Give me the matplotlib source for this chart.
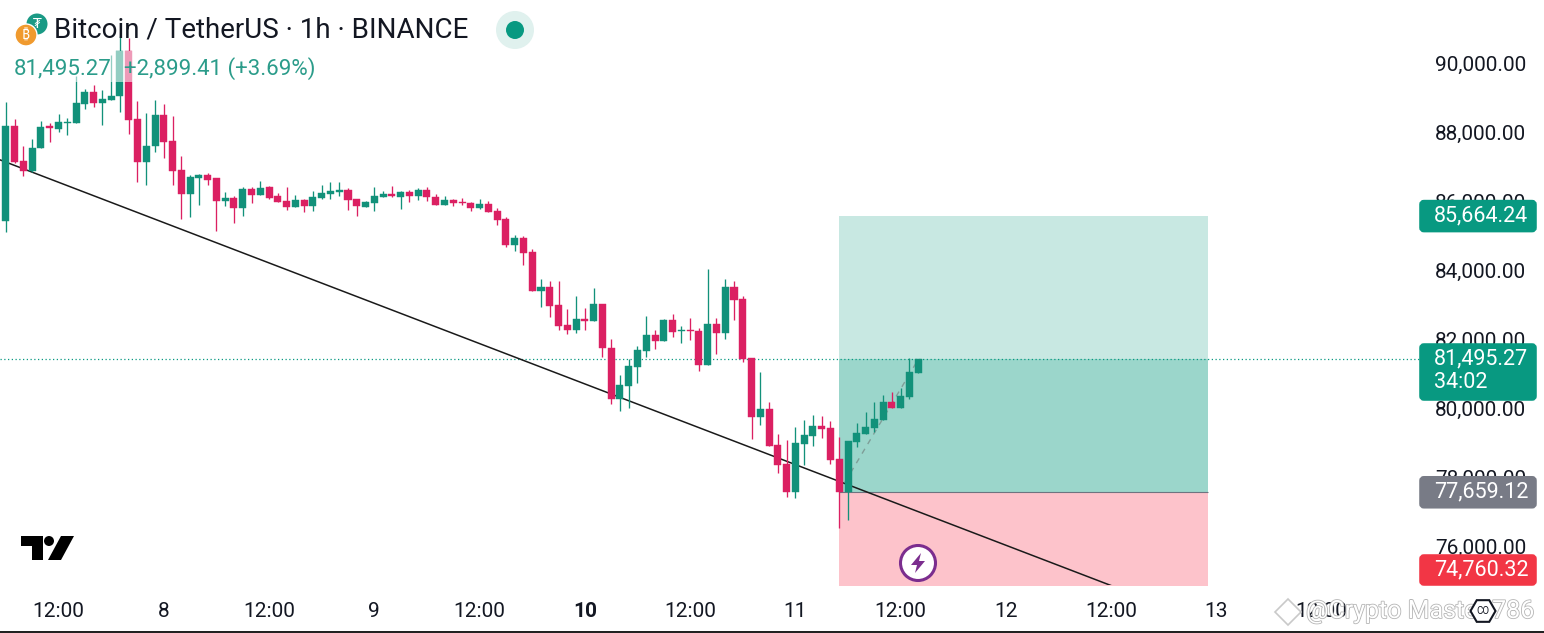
import math
import matplotlib
matplotlib.use("Agg")
import matplotlib.pyplot as plt
import matplotlib.patheffects as pe
from matplotlib.patches import Circle, FancyBboxPatch, Polygon, Rectangle, RegularPolygon
from matplotlib.transforms import ScaledTranslation

plt.rcParams["font.family"] = ["Roboto", "Noto Sans", "DejaVu Sans"]

# Hourly candles
opens = [85520, 88270, 87240, 86970, 87610, 88250, 88180, 88350, 88360, 88910,
         89240, 88940, 89020, 89120, 90440, 88470, 87220, 87670, 88580, 87830,
         86990, 86290, 86740, 86830, 86740, 86090, 86180, 85890, 86440, 86260,
         86480, 86220, 86090, 85920, 86120, 85950, 86160, 86290, 86360, 86410,
         86150, 85920, 86040, 86210, 86290, 86210, 86350, 86220, 86410, 86200,
         85970, 86110, 86060, 86030, 85890, 86000, 85800, 85570, 84820, 85020,
         84610, 83480, 83600, 83070, 82490, 82350, 82670, 82610, 83100, 81840,
         80360, 80730, 81290, 81750, 82200, 82030, 82640, 82330, 82350, 82320,
         81330, 82520, 82270, 83600, 83250, 81530, 79830, 80060, 79010, 78460,
         77660, 79040, 79280, 79570, 79510, 78610, 77660, 79100, 79330, 79510,
         79740, 80260, 80090, 80410, 81100]
highs = [88970, 88460, 87690, 87880, 88420, 88360, 88600, 88490, 89700, 89330,
         89450, 89310, 90320, 90860, 90810, 88990, 88650, 89020, 88900, 88540,
         87380, 86840, 86860, 86910, 86750, 86340, 86220, 86490, 86490, 86660,
         86510, 86330, 86480, 86260, 86150, 86390, 86550, 86640, 86640, 86460,
         86150, 86080, 86490, 86380, 86510, 86380, 86410, 86460, 86490, 86290,
         86240, 86140, 86170, 86070, 86150, 86080, 85890, 85620, 85100, 85080,
         84690, 83820, 83760, 83780, 82960, 83340, 82990, 83560, 83100, 82080,
         81040, 81500, 81890, 82760, 82350, 82660, 82810, 82450, 82700, 82400,
         84120, 82700, 83830, 83770, 83330, 81530, 81140, 80250, 79330, 79160,
         79540, 79740, 79880, 79860, 79710, 79260, 79130, 79660, 79960, 80270,
         80460, 80550, 80660, 81540, 81510]
lows = [85200, 87180, 86800, 86940, 87610, 87810, 88090, 87990, 88360, 88750,
        88810, 88290, 89020, 88680, 88030, 86640, 86550, 87520, 87320, 86550,
        85570, 85610, 85970, 86550, 85230, 85950, 85450, 85660, 86030, 86260,
        86140, 86060, 85830, 85920, 85770, 85810, 86140, 86150, 86220, 85830,
        85660, 85900, 85810, 86190, 86200, 85860, 86070, 86120, 86090, 85970,
        85960, 85950, 85960, 85810, 85850, 85770, 85390, 84740, 84630, 84230,
        83480, 83020, 82730, 82350, 82230, 82270, 82350, 82610, 81560, 80200,
        80000, 80080, 80800, 81560, 81800, 82030, 82150, 81960, 82060, 81170,
        81330, 81650, 82090, 82640, 81430, 79190, 79590, 78980, 78210, 77520,
        77480, 78430, 78980, 79220, 78460, 76610, 76840, 78960, 79330, 79390,
        79740, 80090, 80090, 80340, 81100]
closes = [88270, 87230, 86970, 87620, 88230, 88210, 88370, 88380, 88920, 89240,
          88930, 89050, 89130, 90440, 88440, 87220, 87690, 88570, 87800, 86960,
          86290, 86770, 86830, 86690, 86100, 86180, 85890, 86440, 86260, 86470,
          86180, 86060, 85920, 86120, 85950, 86210, 86320, 86380, 86410, 86120,
          85930, 86060, 86230, 86290, 86220, 86350, 86220, 86400, 86190, 85980,
          86120, 86040, 86030, 85890, 86000, 85780, 85550, 84810, 85020, 84590,
          83490, 83600, 83050, 82470, 82350, 82670, 82620, 83100, 81840, 80360,
          80740, 81310, 81770, 82200, 82040, 82640, 82300, 82350, 82330, 81330,
          82520, 82270, 83600, 83220, 81510, 79840, 80060, 78990, 78430, 77660,
          79070, 79300, 79570, 79480, 78580, 77660, 79130, 79360, 79540, 79770,
          80260, 80090, 80440, 81130, 81495]

price_ticks = [76000, 78000, 80000, 82000, 84000, 86000, 88000, 90000]
time_ticks = [6, 18, 30, 42, 54, 66, 78, 90, 102, 114, 126, 138, 150]
time_labels = ["12:00", "8", "12:00", "9", "12:00", "10", "12:00", "11", "12:00", "12", "12:00", "13", "12:00"]

last_price = 81495.27
target_price = 85664.24
entry_price = 77659.12
stop_price = 74760.32
tool_start = 95
tool_end = 137
trend_x = [-0.67, 130]
trend_y = [87280, 74550]

W, H = 1544, 633
UP = "#12917A"
DOWN = "#DB2062"
TV_GREEN = "#089981"
TEXT = "#131722"

fig = plt.figure(figsize=(W / 100, H / 100), dpi=100, facecolor="white")
ax = fig.add_axes([0, (H - 585) / H, 1420 / W, 585 / H])
ax.set_xlim(-0.67, 161.2)
ax.set_ylim(74957, 91913)
for s in ax.spines.values():
    s.set_visible(False)

# position tool
ax.fill_between([tool_start, tool_end], entry_price, target_price, color="#C8E8E2", lw=0, zorder=1)
ax.fill_between([tool_start, tool_end], entry_price, last_price, color="#9BD6CB", lw=0, zorder=1.1)
ax.fill_between([tool_start, tool_end], stop_price, entry_price, color="#FDC3CB", lw=0, zorder=1)
ax.plot([tool_start, tool_end], [entry_price, entry_price], color="#6E7480", lw=0.8,
        solid_capstyle="butt", zorder=1.2)
ax.plot([tool_start, 104], [entry_price, last_price], color="#7F9E98", lw=1, ls=(0, (4, 4)), zorder=1.3)

ax.axhline(last_price, color=TV_GREEN, lw=0.9, ls=(0, (1, 2)), zorder=1.4)
ax.plot(trend_x, trend_y, color="#1A1A1A", lw=1.1, zorder=2)

# candles
xs = list(range(len(opens)))
colors = [UP if c >= o else DOWN for o, c in zip(opens, closes)]
ax.vlines(xs, lows, highs, colors=colors, lw=0.95, zorder=3)
ax.bar(xs, [abs(c - o) for o, c in zip(opens, closes)],
       bottom=[min(o, c) for o, c in zip(opens, closes)],
       width=0.8, color=colors, edgecolor=colors, lw=0.3, zorder=4)

ax.yaxis.tick_right()
ax.set_yticks(price_ticks)
ax.set_yticklabels([f"{p:,.2f}" for p in price_ticks], fontsize=15, color=TEXT)
ax.set_xticks(time_ticks)
ax.set_xticklabels(time_labels, fontsize=15, color=TEXT)
ax.get_xticklabels()[5].set_fontweight("bold")
ax.tick_params(axis="both", length=0)
ax.tick_params(axis="y", pad=11)
ax.tick_params(axis="x", pad=12.5)
# price labels sit a little above their level
for lbl in ax.get_yticklabels():
    lbl.set_transform(lbl.get_transform() + ScaledTranslation(0, 3 / 100, fig.dpi_scale_trans))

# overlay in pixel coordinates for header, logos and price boxes
ov = fig.add_axes([0, 0, 1, 1], zorder=5)
ov.set_xlim(0, W)
ov.set_ylim(H, 0)
ov.axis("off")
ov.patch.set_alpha(0)


def price_to_px(price):
    return H - ax.transData.transform((0, price))[1]


def price_box(price, color, text):
    y = price_to_px(price)
    ov.add_patch(FancyBboxPatch((1422, y - 13), 112, 27, boxstyle="round,pad=0,rounding_size=2",
                                fc=color, ec=color, lw=4, zorder=6))
    ov.text(1481, y + 0.5, text, color="white", fontsize=15.5, ha="center", va="center", zorder=7)


# legend background fades the candles under the header
ov.add_patch(Rectangle((8, 51), 315, 31, fc="white", alpha=0.55, lw=0))

ov.text(54, 30, "Bitcoin / TetherUS · 1h · BINANCE", fontsize=20, color=TEXT, va="center", zorder=7)
ov.text(14, 68.5, "81,495.27", fontsize=16, color="#2B9C8A", va="center", zorder=7)
ov.text(124, 68.5, "+2,899.41 (+3.69%)", fontsize=16, color="#2B9C8A", va="center", zorder=7)

ov.add_patch(Circle((37, 24), 10.5, fc="#1A9A85", lw=0, zorder=6))
ov.text(37, 24, "₮", color="white", fontsize=10, ha="center", va="center", zorder=7,
        family=["DejaVu Sans"])
ov.add_patch(Circle((26, 35), 11, fc="#F09A2E", ec="white", lw=1, zorder=7))
ov.text(26, 35, "₿", color="white", fontsize=10, ha="center", va="center", zorder=8,
        family=["Noto Sans", "Liberation Sans", "Open Sans", "Inter", "Lato"])

ov.add_patch(Circle((515, 30), 19, fc="#E0F1EE", lw=0))
ov.add_patch(Circle((515, 30), 9, fc=TV_GREEN, lw=0))

# TradingView logo
ov.add_patch(Polygon([(21, 536), (43, 536), (43, 560), (32, 560), (32, 546), (21, 546)], fc="black", lw=0))
ov.add_patch(Circle((49, 541), 5, fc="black", lw=0))
ov.add_patch(Polygon([(61, 536), (74, 536), (61, 560), (48, 560)], fc="black", lw=0))

# lightning badge
ov.add_patch(Circle((918, 563), 17.5, fc="white", ec="#7B2D8E", lw=2.2, zorder=6))
ov.add_patch(Polygon([(921, 553), (911, 565), (917, 565), (915, 573), (925, 561), (919, 561)],
                     fc="#7B2D8E", lw=0, zorder=7))

# price boxes
price_box(target_price, TV_GREEN, "85,664.24")
price_box(entry_price, "#787B86", "77,659.12")
ov.add_patch(FancyBboxPatch((1422, 346), 112, 52, boxstyle="round,pad=0,rounding_size=2",
                            fc=TV_GREEN, ec=TV_GREEN, lw=4, zorder=6))
ov.text(1481, 359, "81,495.27", color="white", fontsize=15.5, ha="center", va="center", zorder=7)
ov.text(1461, 383, "34:02", color="white", fontsize=15.5, ha="center", va="center", zorder=7)
ov.add_patch(FancyBboxPatch((1422, 557), 112, 26, boxstyle="round,pad=0,rounding_size=2",
                            fc="#F23645", ec="#F23645", lw=4, zorder=6))
ov.text(1481, 570, "74,760.32", color="white", fontsize=15.5, ha="center", va="center", zorder=7)

# watermark
ov.plot([1288], [612], marker="D", ms=13, mfc="white", mec="#C9C9C9", mew=1.2, zorder=7)
ov.text(1306, 611, "@Crypto Master 786", fontsize=18, color="white", va="center", zorder=7,
        path_effects=[pe.withStroke(linewidth=1.2, foreground="#B5B5B5")])
ov.add_patch(RegularPolygon((1483, 611), 6, radius=12.5, orientation=math.pi / 6, fc="white",
                            ec=TEXT, lw=1.5, zorder=8))
ov.text(1483, 611, "CO", fontsize=7, color=TEXT, ha="center", va="center", zorder=9)

# dark strip along the bottom edge
ov.add_patch(Rectangle((0, 631), W, 2, fc="#222222", lw=0))

fig.savefig("out.png", dpi=100, facecolor="white")
